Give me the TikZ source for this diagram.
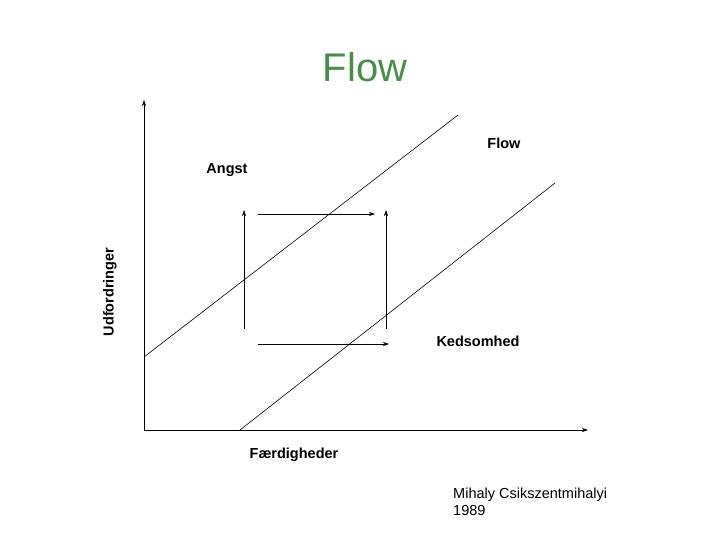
\documentclass[tikz,border=0pt]{standalone}
\usepackage{fontspec}
\setmainfont{Liberation Sans}
\usetikzlibrary{arrows.meta}
\definecolor{titlegreen}{RGB}{76,140,76}
\begin{document}
\begin{tikzpicture}[x=1pt,y=-1pt,
  ar/.style={-{Stealth[length=6pt,width=4pt]},line width=0.6pt},
  ln/.style={line width=0.6pt},
  lbl/.style={font=\bfseries\fontsize{14.5}{17}\selectfont,inner sep=0pt}]
\useasboundingbox (0,0) rectangle (728,546);
\node[inner sep=0pt,text=titlegreen,font=\fontsize{40}{44}\selectfont] (title) at (365,67) {Flow};
\coordinate (o) at (144,430);
\coordinate (ytop) at (144,100);
\coordinate (xend) at (588,430);
\draw[ar] (o) -- (ytop);
\draw[ar] (o) -- (xend);
\coordinate (a1) at (144,357); \coordinate (a2) at (458,115);
\coordinate (b1) at (240,430); \coordinate (b2) at (555,183);
\draw[ln] (a1) -- (a2);
\draw[ln] (b1) -- (b2);
\coordinate (v1s) at (244,329); \coordinate (v1e) at (244,210);
\coordinate (h1s) at (258,214); \coordinate (h1e) at (375,214);
\coordinate (v2s) at (386,329); \coordinate (v2e) at (386,210);
\coordinate (h2s) at (258,344); \coordinate (h2e) at (389,344);
\draw[ar] (v1s) -- (v1e);
\draw[ar] (h1s) -- (h1e);
\draw[ar] (v2s) -- (v2e);
\draw[ar] (h2s) -- (h2e);
\node[lbl] (flow) at (504,143) {Flow};
\node[lbl] (angst) at (227,170) {Angst};
\node[lbl] (ked) at (478,341) {Kedsomhed};
\node[lbl] (faer) at (294,455) {Færdigheder};
\node[lbl,rotate=90] (udf) at (110,292) {Udfordringer};
\node[inner sep=0pt,anchor=west,align=left,font=\fontsize{14.5}{17}\selectfont] (src) at (453,502) {Mihaly Csikszentmihalyi\\1989};
\end{tikzpicture}
\end{document}
